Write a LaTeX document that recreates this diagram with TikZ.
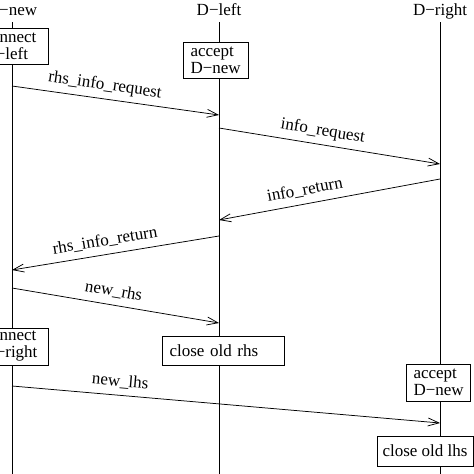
\documentclass[tikz,border=0pt]{standalone}
\usepackage{fontspec}
\setmainfont{Liberation Serif}
\usetikzlibrary{arrows.meta}
\begin{document}
\begin{tikzpicture}[x=1pt,y=-1pt,
  every node/.style={font=\fontsize{17}{17}\selectfont},
  lifeline/.style={line width=0.75pt},
  msg/.style={line width=0.75pt, -{Straight Barb[length=11pt,width=8pt]}},
  lbl/.style={sloped, anchor=base, inner sep=0pt, yshift=9pt},
  actbox/.style={draw, fill=white, line width=0.75pt, align=left, inner xsep=7.5pt, inner ysep=0pt},
  hdr/.style={anchor=base, inner sep=0pt}]
\useasboundingbox (0,0) rectangle (474,474);
\clip (0,0) rectangle (474,474);
% headers
\node[hdr] (hN) at (12,15) {D−new};
\node[hdr] (hL) at (219,15) {D−left};
\node[hdr] (hR) at (440,15) {D−right};
% lifeline ends
\coordinate (tN) at (12,22);  \coordinate (bN) at (12,476);
\coordinate (tL) at (219,22); \coordinate (bL) at (219,476);
\coordinate (tR) at (440,22); \coordinate (bR) at (440,476);
\draw[lifeline] (tN) -- (bN);
\draw[lifeline] (tL) -- (bL);
\draw[lifeline] (tR) -- (bR);
% boxes
\node[actbox, text width=57pt, minimum height=36pt] (c1) at (12,46) {connect\\D−left};
\node[actbox, text width=50pt, minimum height=36pt] (a1) at (215.5,60) {accept\\D−new};
\node[actbox, text width=107pt, minimum height=29pt] (cr) at (223,350.5) {close old rhs};
\node[actbox, text width=57pt, minimum height=37pt] (c2) at (12,346.5) {connect\\D−right};
\node[actbox, text width=49pt, minimum height=37pt] (a2) at (438,382.5) {accept\\D−new};
\node[actbox, inner xsep=0pt, minimum width=96pt, minimum height=30pt] (cl) at (425,451) {close old lhs};
% message endpoints
\coordinate (m1s) at (12,86);   \coordinate (m1e) at (219,115);
\coordinate (m2s) at (219,128); \coordinate (m2e) at (440,164);
\coordinate (m3s) at (440,179); \coordinate (m3e) at (219,220);
\coordinate (m4s) at (219,236); \coordinate (m4e) at (12,270);
\coordinate (m5s) at (12,288);  \coordinate (m5e) at (219,323);
\coordinate (m6s) at (12,386);  \coordinate (m6e) at (440,423);
% messages
\draw[msg] (m1s) -- node[lbl, pos=0.44] {rhs\_info\_request} (m1e);
\draw[msg] (m2s) -- node[lbl, pos=0.46] {info\_request} (m2e);
\draw[msg] (m3s) -- node[lbl, pos=0.60] {info\_return} (m3e);
\draw[msg] (m4s) -- node[lbl, pos=0.54] {rhs\_info\_return} (m4e);
\draw[msg] (m5s) -- node[lbl, pos=0.48] {new\_rhs} (m5e);
\draw[msg] (m6s) -- node[lbl, pos=0.25] {new\_lhs} (m6e);
\end{tikzpicture}
\end{document}
